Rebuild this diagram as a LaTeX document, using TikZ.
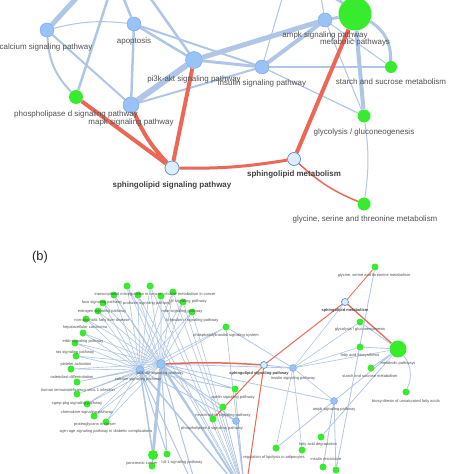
\documentclass[tikz,border=0pt]{standalone}
\usepackage{fontspec}
\setmainfont{Liberation Sans}
\usepackage{xcolor}
\usetikzlibrary{backgrounds}
\definecolor{nodeblue}{RGB}{153,194,247}
\definecolor{nodeblueline}{RGB}{120,165,235}
\definecolor{nodegreen}{RGB}{55,235,45}
\definecolor{hubfill}{RGB}{222,238,253}
\definecolor{hubline}{RGB}{90,140,220}
\definecolor{edgeblue}{RGB}{176,198,230}
\definecolor{edgered}{RGB}{236,104,86}
\definecolor{labelgray}{RGB}{80,80,80}
\newcommand{\labfont}{\fontsize{6.8}{8}\selectfont}
\newcommand{\tinyfont}{\fontsize{3.4}{4}\selectfont}

\begin{document}
\begin{tikzpicture}[x=0.3mm, y=-0.3mm,
  bn/.style={circle, fill=nodeblue, draw=nodeblueline, line width=0.4pt,
             inner sep=0pt, minimum size=#1*0.3mm},
  gn/.style={circle, fill=nodegreen, inner sep=0pt, minimum size=#1*0.3mm},
  sn/.style={circle, fill=hubfill, draw=hubline, line width=0.6pt,
             inner sep=0pt, minimum size=#1*0.3mm},
  lab/.style={font=\labfont, text=labelgray, inner sep=0pt},
  blab/.style={font=\labfont\bfseries, text=labelgray!80!black, inner sep=0pt},
  slab/.style={font=\tinyfont, text=labelgray, inner sep=0pt},
  sblab/.style={font=\tinyfont\bfseries, text=labelgray!80!black, inner sep=0pt},
  be/.style={draw=edgeblue, line width=#1*0.85pt},
  re/.style={draw=edgered, line width=#1*0.85pt},
]
  \useasboundingbox (0,0) rectangle (474,474);

  % (a) upper network
  \node[bn=14] (calcium)   at (47,30)   {};
  \node[bn=14] (apoptosis) at (134,24)  {};
  \node[bn=17] (pikt)      at (194,60)  {};
  \node[gn=14] (pld)       at (76,97)   {};
  \node[bn=16] (mapk)      at (131,105) {};
  \node[bn=14] (insulin)   at (262,67)  {};
  \node[bn=14] (ampk)      at (325,20)  {};
  \node[gn=33] (metab)     at (355,14)  {};
  \node[gn=12] (starch)    at (391,67)  {};
  \node[gn=13] (glyco)     at (364,116) {};
  \node[sn=14] (sigpath)   at (172,168) {};
  \node[sn=13] (sphmet)    at (294,159) {};
  \node[gn=13] (glycine)   at (364,204) {};

  \node[lab]  (calcium-l)   at (46,47)   {calcium signaling pathway};
  \node[lab]  (apoptosis-l) at (134,41)  {apoptosis};
  \node[lab]  (pikt-l)      at (194,79)  {pi3k-akt signaling pathway};
  \node[lab]  (insulin-l)   at (262,83)  {insulin signaling pathway};
  \node[lab]  (pld-l)       at (76,114)  {phospholipase d signaling pathway};
  \node[lab]  (mapk-l)      at (131,122) {mapk signaling pathway};
  \node[lab]  (ampk-l)      at (325,35)  {ampk signaling pathway};
  \node[lab]  (metab-l)     at (355,42)  {metabolic pathways};
  \node[lab]  (starch-l)    at (391,82)  {starch and sucrose metabolism};
  \node[lab]  (glyco-l)     at (364,132) {glycolysis / gluconeogenesis};
  \node[blab] (sigpath-l)   at (172,185) {sphingolipid signaling pathway};
  \node[blab] (sphmet-l)    at (294,174) {sphingolipid metabolism};
  \node[lab]  (glycine-l)   at (365,219) {glycine, serine and threonine metabolism};

  % neighbours cut off at the top
  \coordinate (upA) at (82,-8);
  \coordinate (upB) at (110,-8);
  \coordinate (upC) at (121,-8);
  \coordinate (upD) at (146,-8);
  \coordinate (upE) at (284,-8);
  \coordinate (upF) at (320,-8);
  \coordinate (upG) at (300,-8);

  % (b) lower network
  \node[font=\fontsize{11}{13}\selectfont, text=black!85] (panelb) at (40,257) {(b)};

  \node[bn=9] (hubA) at (161,364) {};
  \node[bn=8] (hubB) at (140,370) {};
  \node[slab] (hubA-l) at (160,373) {pi3k-akt signaling pathway};
  \node[slab] (hubB-l) at (138,379) {calcium signaling pathway};

  % left arc
  \node[gn=7] (lg1)  at (103,303) {};
  \node[gn=7] (lg2)  at (98,311)  {};
  \node[gn=7] (lg3)  at (86,319)  {};
  \node[gn=7] (lg4)  at (83,333)  {};
  \node[gn=7] (lg5)  at (75,343)  {};
  \node[gn=7] (lg6)  at (76,356)  {};
  \node[gn=7] (lg7)  at (71,369)  {};
  \node[gn=7] (lg8)  at (77,382)  {};
  \node[gn=7] (lg9)  at (77,394)  {};
  \node[gn=7] (lg10) at (87,404)  {};
  \node[gn=7] (lg11) at (94,416)  {};
  \node[gn=7] (lg12) at (106,422) {};
  \node[slab] (lg1-l)  at (102,311) {estrogen signaling pathway};
  \node[slab] (lg2-l)  at (102,320) {non-alcoholic fatty liver disease};
  \node[slab] (lg3-l)  at (85,327)  {hepatocellular carcinoma};
  \node[slab] (lg4-l)  at (83,341)  {erbb signaling pathway};
  \node[slab] (lg5-l)  at (75,352)  {ras signaling pathway};
  \node[slab] (lg6-l)  at (76,364)  {platelet activation};
  \node[slab] (lg7-l)  at (72,377)  {osteoclast differentiation};
  \node[slab] (lg8-l)  at (78,390)  {human immunodeficiency virus 1 infection};
  \node[slab] (lg9-l)  at (77,403)  {cgmp-pkg signaling pathway};
  \node[slab] (lg10-l) at (87,412)  {chemokine signaling pathway};
  \node[slab] (lg11-l) at (95,424)  {proteoglycans in cancer};
  \node[slab] (lg12-l) at (106,431) {age-rage signaling pathway in diabetic complications};

  % top arc
  \node[gn=7] (tg1) at (127,286) {};
  \node[gn=7] (tg2) at (150,286) {};
  \node[gn=7] (tg3) at (114,295) {};
  \node[gn=7] (tg4) at (138,295) {};
  \node[gn=7] (tg5) at (161,296) {};
  \node[gn=7] (tg6) at (173,292) {};
  \node[gn=7] (tg7) at (183,302) {};
  \node[gn=7] (tg8) at (192,312) {};
  \node[gn=7] (tg9) at (226,327) {};
  \node[slab] (tg1-l) at (128,294) {transcriptional misregulation in cancer};
  \node[slab] (tg2-l) at (190,294) {choline metabolism in cancer};
  \node[slab] (tg3-l) at (102,302) {foxo signaling pathway};
  \node[slab] (tg4-l) at (147,303) {prolactin signaling pathway};
  \node[slab] (tg6-l) at (188,301) {tnf signaling pathway};
  \node[slab] (tg7-l) at (182,311) {mtor signaling pathway};
  \node[slab] (tg8-l) at (192,320) {fc epsilon ri signaling pathway};
  \node[slab] (tg9-l) at (226,335) {phosphatidylinositol signaling system};

  % middle
  \node[sn=7] (bsig)  at (264,365) {};
  \node[bn=7] (bins)  at (293,368) {};
  \node[gn=7] (mg1)   at (235,389) {};
  \node[gn=7] (mg2)   at (223,407) {};
  \node[gn=7] (mg3)   at (213,419) {};
  \node[bn=7] (mb1)   at (236,421) {};
  \node[gn=7] (mg4)   at (276,448) {};
  \node[gn=7] (mg5)   at (302,450) {};
  \node[gn=10] (low1) at (153,455) {};
  \node[gn=7] (low2)  at (152,466) {};
  \node[gn=7] (low3)  at (167,454) {};
  \node[sblab] (bsig-l) at (259,373) {sphingolipid signaling pathway};
  \node[slab] (bins-l)  at (293,378) {insulin signaling pathway};
  \node[slab] (mg1-l)   at (233,397) {apelin signaling pathway};
  \node[slab] (mg2-l)   at (223,415) {neurotrophin signaling pathway};
  \node[slab] (mg3-l)   at (212,428) {phospholipase d signaling pathway};
  \node[slab] (mg4-l)   at (274,457) {regulation of lipolysis in adipocytes};
  \node[slab] (mg5-l)   at (326,459) {insulin resistance};
  \node[slab] (low1-l)  at (142,463) {pancreatic cancer};
  \node[slab] (low3-l)  at (182,462) {hif-1 signaling pathway};

  % right side
  \node[gn=7]  (bglycine) at (375,267) {};
  \node[sn=7]  (bsphmet)  at (345,302) {};
  \node[gn=7]  (bglyco)   at (360,322) {};
  \node[gn=7]  (bfab)     at (360,347) {};
  \node[gn=17] (bmetab)   at (398,349) {};
  \node[gn=7]  (bstarch)  at (371,368) {};
  \node[gn=7]  (bunsat)   at (406,392) {};
  \node[bn=7]  (bampk)    at (334,401) {};
  \node[gn=7]  (bfad)     at (321,437) {};
  \node[gn=7]  (rg1)      at (323,467) {};
  \node[gn=7]  (rg2)      at (336,470) {};
  \node[slab]  (bglycine-l) at (374,275) {glycine, serine and threonine metabolism};
  \node[sblab] (bsphmet-l)  at (345,310) {sphingolipid metabolism};
  \node[slab]  (bglyco-l)   at (360,329) {glycolysis / gluconeogenesis};
  \node[slab]  (bfab-l)     at (360,355) {fatty acid biosynthesis};
  \node[slab]  (bmetab-l)   at (398,363) {metabolic pathways};
  \node[slab]  (bstarch-l)  at (370,376) {starch and sucrose metabolism};
  \node[slab]  (bunsat-l)   at (406,401) {biosynthesis of unsaturated fatty acids};
  \node[slab]  (bampk-l)    at (334,409) {ampk signaling pathway};
  \node[slab]  (bfad-l)     at (318,444) {fatty acid degradation};

  % neighbours cut off at the bottom
  \coordinate (downA) at (245,495);
  \coordinate (downB) at (200,500);

  \begin{scope}[on background layer]
    \fill[white] (0,0) rectangle (474,474);

    % upper edges
    \draw[be=5]   (calcium) -- (upA);
    \draw[be=2.5] (pld) -- (upB);
    \draw[be=2.5] (apoptosis) -- (upC);
    \draw[be=2.5] (pikt) -- (upD);
    \draw[be=1]   (insulin) -- (upE);
    \draw[be=1]   (ampk) -- (upF);
    \draw[be=3]   (metab) to[bend right=20] (upG);
    \draw[be=1]   (calcium) to[bend left=10] (apoptosis);
    \draw[be=2]   (calcium) -- (mapk);
    \draw[be=2]   (calcium) to[bend right=20] (pld);
    \draw[be=2.5] (apoptosis) -- (mapk);
    \draw[be=2.5] (apoptosis) -- (pikt);
    \draw[be=2]   (apoptosis) -- (insulin);
    \draw[be=6]   (mapk) -- (pikt);
    \draw[be=2]   (mapk) -- (insulin);
    \draw[be=5]   (pikt) -- (ampk);
    \draw[be=3]   (pikt) -- (insulin);
    \draw[be=4]   (insulin) -- (ampk);
    \draw[be=3]   (ampk) -- (metab);
    \draw[be=1]   (ampk) -- (glyco);
    \draw[be=1]   (ampk) -- (starch);
    \draw[be=1.2] (insulin) -- (starch);
    \draw[be=1.2] (insulin) -- (glyco);
    \draw[be=4]   (metab) -- (glyco);
    \draw[be=3]   (metab) to[bend left=30] (starch);
    \draw[be=1]   (glyco) to[bend left=8] (glycine);

    \draw[re=4]   (pld) -- (sigpath);
    \draw[re=4]   (mapk) to[bend right=10] (sigpath);
    \draw[re=4]   (pikt) -- (sigpath);
    \draw[re=3]   (sigpath) to[bend right=5] (sphmet);
    \draw[re=4]   (sphmet) -- (metab);
    \draw[re=1.5] (sphmet) to[bend right=10] (glycine);

    % lower edges
    \foreach \i in {1,...,12}
      \draw[be=0.6] (lg\i) -- (hubA) (lg\i) -- (hubB);
    \foreach \i in {1,...,9}
      \draw[be=0.6] (tg\i) -- (hubA) (tg\i) -- (hubB) (tg\i) -- (downA);
    \draw[be=3]   (hubA) -- (low1);
    \draw[be=1.5] (hubB) -- (low1);
    \draw[be=1]   (hubA) -- (low2) (hubA) -- (low3) (hubB) -- (low3);
    \draw[be=2]   (hubA) -- (downA);
    \draw[be=1.5] (hubB) -- (downA);
    \draw[be=1]   (hubA) -- (downB) (hubB) -- (downB);
    \draw[be=0.8] (hubA) -- (bins) (hubA) -- (bampk) (hubA) -- (mg1)
                  (hubA) -- (mg2) (hubA) -- (mb1) (hubA) -- (mg3)
                  (hubB) -- (mg1) (hubB) -- (mb1);
    \draw[be=0.8] (bsig) -- (bins) (tg9) -- (bins);
    \draw[be=0.6] (bins) -- (bglyco) (bins) -- (bmetab) (bins) -- (bampk)
                  (bins) -- (bfab) (bins) -- (mg5) (bins) -- (mg4)
                  (bins) -- (bsphmet);
    \draw[be=0.8] (bmetab) -- (bglyco) (bmetab) -- (bfab) (bmetab) -- (bstarch)
                  (bmetab) -- (bampk) (bmetab) -- (bfad);
    \draw[be=0.8] (bmetab) to[bend left=30] (bunsat);
    \draw[be=0.8] (bampk) -- (rg1) (bampk) -- (rg2) (bglycine) -- (rg2)
                  (mb1) -- (downA) (mg1) -- (downA) (mg2) -- (downA)
                  (bampk) -- (mg4);

    \draw[re=1.5] (hubA) to[bend left=3] (bsig);
    \draw[re=1]   (bsig) -- (bsphmet) (bsig) -- (mg3) (bsig) -- (downA);
    \draw[re=0.8] (bsphmet) -- (bglycine);
    \draw[re=1.3] (bsphmet) -- (bmetab);
  \end{scope}
\end{tikzpicture}
\end{document}
